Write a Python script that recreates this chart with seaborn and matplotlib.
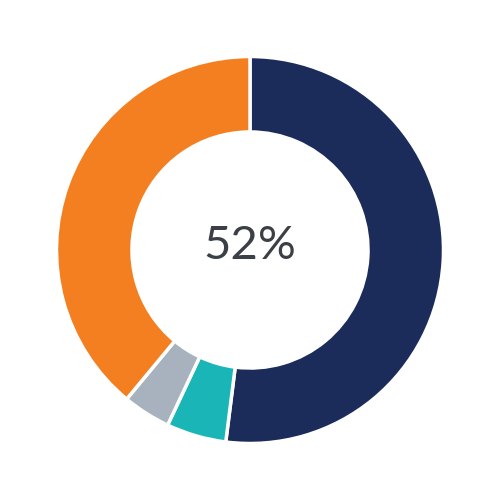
import seaborn as sns
import matplotlib.pyplot as plt

labels = ['Navy', 'Teal', 'Gray', 'Orange']
shares = [52, 5, 4, 39]
colors = ['#1b2c5b', '#1ab5b6', '#a8b2bf', '#f47f20']
center_label = '52%'

sns.set_style('white')
plt.rcParams['font.family'] = ['Lato', 'DejaVu Sans']

fig = plt.figure(figsize=(5, 5), dpi=100)
ax = fig.add_axes([0, 0, 1, 1])
ax.pie(shares, colors=colors, startangle=90, counterclock=False, radius=1,
       wedgeprops=dict(width=0.39, edgecolor='white', linewidth=2.5))
ax.text(0, 0.02, center_label, ha='center', va='center', fontsize=34, color='#3b4047')
lim = 250 / 193.5
ax.set_xlim(-lim, lim)
ax.set_ylim(-lim, lim)
ax.set_aspect('equal')
ax.axis('off')
fig.savefig('out.png', dpi=100, facecolor='white')
